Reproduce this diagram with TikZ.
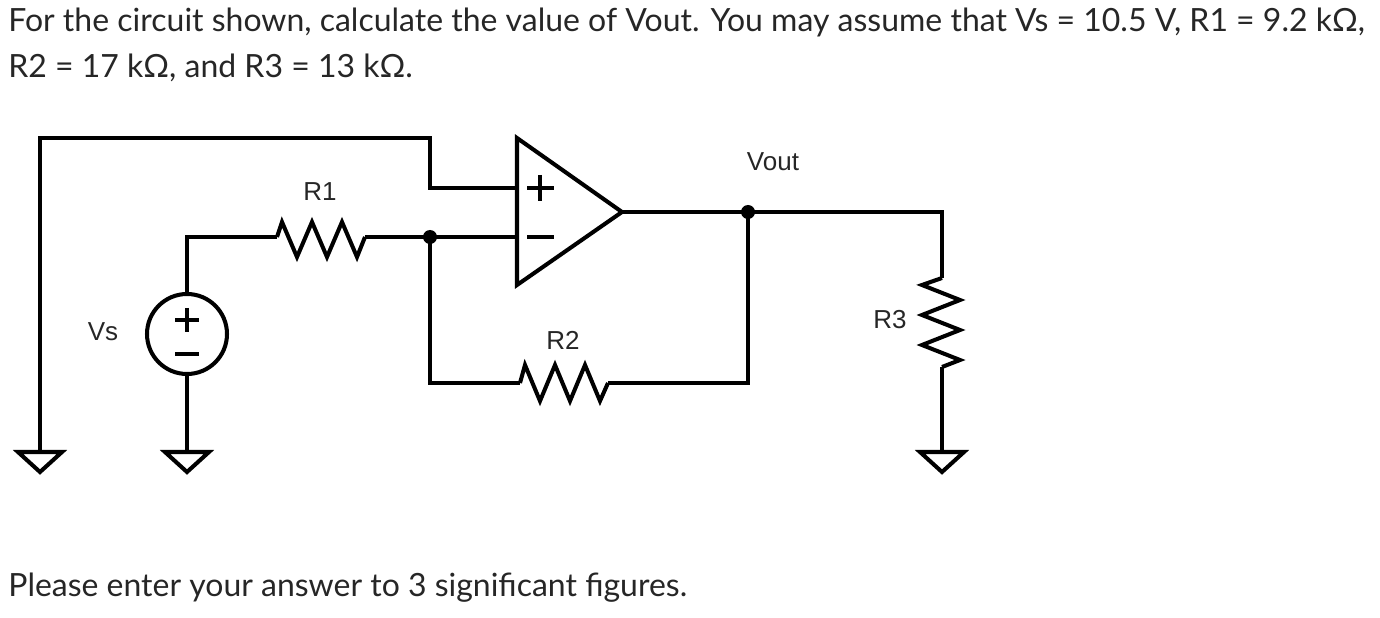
\documentclass[tikz,border=0pt]{standalone}
\usepackage{fontspec}
\setmainfont{Lato}
\newfontfamily\lbl{Liberation Sans}
\begin{document}
\begin{tikzpicture}[x=0.02cm,y=-0.02cm,
  w/.style={line width=2.3pt,line join=miter,line cap=butt},
  lab/.style={font=\lbl\fontsize{14.8}{17}\selectfont,text=black!85},
  txt/.style={font=\fontsize{18.2}{21}\selectfont,anchor=west,inner sep=0pt,text=black!85}]
\useasboundingbox (0,0) rectangle (1380,618);
\node[txt] (t1) at (8,22) {For the circuit shown, calculate the value of Vout. You may assume that Vs = 10.5 V, R1 = 9.2 kΩ,};
\node[txt] (t2) at (8,68) {R2 = 17 kΩ, and R3 = 13 kΩ.};
\node[txt] (t3) at (8,588) {Please enter your answer to 3 significant figures.};
% coordinates
\coordinate (g1) at (40,452);
\coordinate (c1) at (40,138);
\coordinate (c2) at (430,138);
\coordinate (c3) at (430,188);
\coordinate (pin) at (517,188);
\coordinate (nin) at (517,237);
\coordinate (n1) at (430,237);
\coordinate (out) at (622,212);
\coordinate (n2) at (748,212);
\coordinate (c4) at (942,212);
\coordinate (r3a) at (942,278);
\coordinate (r3b) at (942,367);
\coordinate (g3) at (942,452);
\coordinate (vt) at (187,293);
\coordinate (vb) at (187,375);
\coordinate (g2) at (187,452);
\coordinate (c5) at (187,237);
\coordinate (r1a) at (277,237);
\coordinate (r1b) at (365,237);
\coordinate (c6) at (430,383);
\coordinate (r2a) at (520,383);
\coordinate (r2b) at (608,383);
\coordinate (c7) at (748,383);
% wires
\draw[w] (g1) -- (c1) -- (c2) -- (c3) -- (pin);
\draw[w] (vt) -- (c5) -- (r1a);
\draw[w] (r1a) -- ++(5,-15) -- ++(15,35) -- ++(15,-35) -- ++(15,35) -- ++(15,-35) -- ++(15,35) -- (r1b);
\draw[w] (r1b) -- (n1) -- (nin);
\draw[w] (n1) -- (c6) -- (r2a);
\draw[w] (r2a) -- ++(5,-18) -- ++(15,36) -- ++(15,-36) -- ++(15,36) -- ++(15,-36) -- ++(15,36) -- (r2b);
\draw[w] (r2b) -- (c7) -- (n2);
\draw[w] (out) -- (c4) -- (r3a);
\draw[w] (r3a) -- ++(-20,7) -- ++(38,15) -- ++(-38,15) -- ++(38,15) -- ++(-38,15) -- ++(38,15) -- (r3b);
\draw[w] (r3b) -- (g3);
\draw[w] (vb) -- (g2);
% opamp
\draw[w] (517,138) -- (out) -- (517,285) -- cycle;
\draw[w] (527,188) -- (554,188) (540,175) -- (540,201);
\draw[w] (527,237) -- (554,237);
% source
\node[draw,circle,line width=2.3pt,inner sep=0pt,minimum size=1.6cm] (vs) at (187,334) {};
\draw[w] (175,320) -- (199,320) (187,308) -- (187,332);
\draw[w] (175,354) -- (199,354);
% grounds
\foreach \g in {g1,g2,g3}{
  \draw[w] (\g) ++(-22,0) -- ++(44,0) -- ++(-22,20) -- cycle;
}
% dots
\fill (n1) circle (7);
\fill (n2) circle (7);
% labels
\node[lab] (l1) at (320,192) {R1};
\node[lab] (l2) at (773,162) {Vout};
\node[lab] (l3) at (103,332) {Vs};
\node[lab] (l4) at (563,340) {R2};
\node[lab] (l5) at (890,320) {R3};
\end{tikzpicture}
\end{document}
